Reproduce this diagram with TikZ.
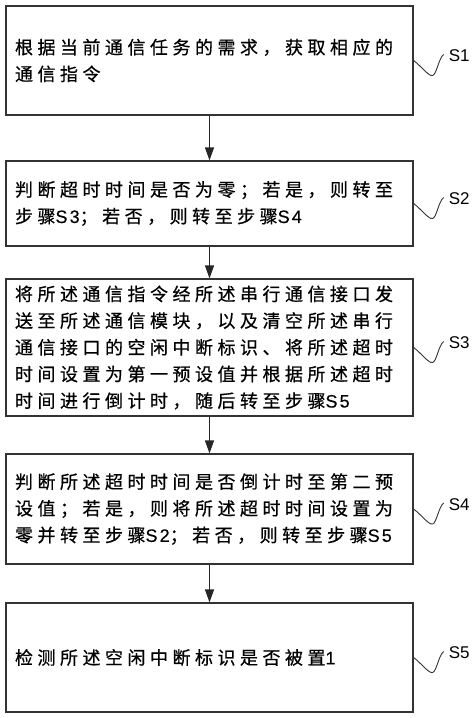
\documentclass[tikz,border=0pt]{standalone}
\usepackage{fontspec}
\setmainfont{Liberation Sans}
\newfontfamily\cjk[LetterSpace=25,FakeBold=0.6]{Noto Sans CJK SC}
\newfontfamily\latf[FakeBold=0.3,LetterSpace=12]{Liberation Sans}
\newcommand{\lat}[1]{{\latf #1}}
\usetikzlibrary{arrows.meta}
\begin{document}
\begin{tikzpicture}[x=1pt,y=-1pt,
 box/.style={draw=black!80, line width=1.2pt, rectangle, minimum width=407pt, text width=389pt, align=left, inner xsep=9pt, inner ysep=0pt, font=\cjk\fontsize{18pt}{26.7pt}\selectfont},
 arr/.style={draw=black!85, line width=1.2pt, -{Triangle[width=9pt,length=13pt]}},
 squig/.style={draw=black!80, line width=0.9pt},
 lab/.style={font=\fontsize{17pt}{20pt}\selectfont, anchor=west, inner sep=0pt}]
\useasboundingbox (0,0) rectangle (474,718);
\node[box, minimum height=109pt] (b1) at (209.5,60.5) {根据当前通信任务的需求，获取相应的\\通信指令};
\node[box, minimum height=85pt] (b2) at (209.5,203.5) {判断超时时间是否为零；若是，则转至\\步骤\lat{S3}；若否，则转至步骤\lat{S4}};
\node[box, minimum height=137pt] (b3) at (209.5,347.5) {将所述通信指令经所述串行通信接口发\\送至所述通信模块，以及清空所述串行\\通信接口的空闲中断标识、将所述超时\\时间设置为第一预设值并根据所述超时\\时间进行倒计时，随后转至步骤\lat{S5}};
\node[box, minimum height=110pt] (b4) at (209.5,509) {判断所述超时时间是否倒计时至第二预\\设值；若是，则将所述超时时间设置为\\零并转至步骤\lat{S2}；若否，则转至步骤\lat{S5}};
\node[box, minimum height=109pt] (b5) at (209.5,657.5) {检测所述空闲中断标识是否被置\lat{1}};
\draw[arr] (b1.south) -- (b2.north);
\draw[arr] (b2.south) -- (b3.north);
\draw[arr] (b3.south) -- (b4.north);
\draw[arr] (b4.south) -- (b5.north);
\foreach \b/\s in {b1/S1,b2/S2,b3/S3,b4/S4,b5/S5}{
  \begin{scope}[shift={(\b.east)}]
    \draw[squig] (0,0) .. controls (8,6) and (15,16) .. (19,15) .. controls (23,14) and (25,-2) .. (30,-6);
    \node[lab] (lab\s) at (35,-4.5) {\s};
  \end{scope}
}
\end{tikzpicture}
\end{document}
